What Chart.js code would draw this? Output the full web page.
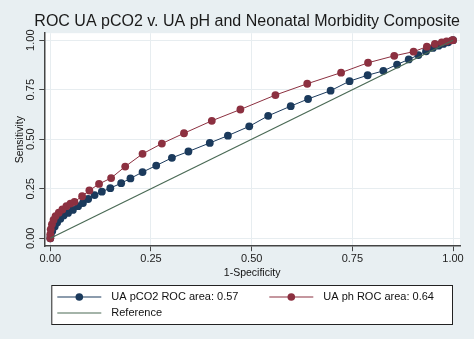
<!DOCTYPE html>
<html>
<head>
<meta charset="utf-8">
<script src="https://cdn.jsdelivr.net/npm/chart.js@4.4.1/dist/chart.umd.min.js"></script>
<style>
    html, body { margin: 0; padding: 0; background: #e8eff2; }
    #wrap { width: 474px; height: 339px; position: relative; }
</style>
</head>
<body>
<div id="wrap"><canvas id="roc-chart"></canvas></div>
<script>
// values (1-specificity, sensitivity)
const pco2X = [0, 0.001, 0.005, 0.011, 0.017, 0.025, 0.033, 0.044, 0.056, 0.069, 0.081, 0.094, 0.110, 0.128, 0.149, 0.176, 0.199, 0.229, 0.263, 0.302, 0.343, 0.396, 0.441, 0.494, 0.541, 0.597, 0.640, 0.696, 0.743, 0.788, 0.827, 0.861, 0.890, 0.914, 0.933, 0.950, 0.964, 0.976, 0.988, 1];
const pco2Y = [0, 0.015, 0.037, 0.059, 0.079, 0.098, 0.115, 0.128, 0.143, 0.162, 0.178, 0.198, 0.218, 0.235, 0.253, 0.278, 0.302, 0.334, 0.367, 0.406, 0.438, 0.481, 0.518, 0.565, 0.618, 0.667, 0.703, 0.745, 0.793, 0.823, 0.845, 0.877, 0.903, 0.925, 0.944, 0.961, 0.972, 0.981, 0.989, 1];
const phX = [0, 0, 0.001, 0.004, 0.008, 0.013, 0.021, 0.030, 0.040, 0.050, 0.060, 0.079, 0.097, 0.121, 0.151, 0.186, 0.229, 0.277, 0.332, 0.401, 0.472, 0.559, 0.638, 0.722, 0.789, 0.854, 0.902, 0.935, 0.955, 0.972, 0.984, 0.997, 1];
const phY = [0, 0.020, 0.045, 0.070, 0.092, 0.112, 0.129, 0.145, 0.162, 0.175, 0.184, 0.212, 0.241, 0.274, 0.304, 0.362, 0.426, 0.478, 0.530, 0.593, 0.650, 0.723, 0.780, 0.836, 0.886, 0.921, 0.942, 0.967, 0.981, 0.989, 0.994, 0.999, 1];
const refX = [0, 1];
const refY = [0, 1];

const xTicks = [0, 0.25, 0.5, 0.75, 1];
const yTicks = [0, 0.25, 0.5, 0.75, 1];
const seriesLabels = ['UA pCO2 ROC area: 0.57', 'UA ph ROC area: 0.64', 'Reference'];

const NAVY = '#1b3a5c';
const MAROON = '#8c3040';
const REF_GREEN = '#4a6a55';
const BG = '#e8eff2';

Chart.defaults.font.family = '"Liberation Sans", Arial, sans-serif';
Chart.defaults.color = '#333';

function toPoints(xs, ys) {
    return xs.map((x, i) => ({x: x, y: ys[i]}));
}

// outer grey page + white plot region
const plotBackground = {
    id: 'plotBackground',
    beforeDraw(chart) {
        const ctx = chart.ctx;
        const a = chart.chartArea;
        ctx.save();
        ctx.fillStyle = BG;
        ctx.fillRect(0, 0, chart.width, chart.height);
        ctx.fillStyle = '#ffffff';
        ctx.fillRect(a.left, a.top, a.right - a.left, a.bottom - a.top);
        ctx.restore();
    }
};

// Stata style boxed legend: two entries on the first row, reference below
const boxedLegend = {
    id: 'boxedLegend',
    afterDraw(chart) {
        const ctx = chart.ctx;
        const a = chart.chartArea;
        const left = a.left + 7;
        const right = a.right - 8;
        const top = chart.height - 54;
        const bottom = chart.height - 15;
        ctx.save();
        ctx.fillStyle = '#ffffff';
        ctx.fillRect(left, top, right - left, bottom - top);
        ctx.strokeStyle = '#222';
        ctx.lineWidth = 1;
        ctx.strokeRect(left + 0.5, top + 0.5, right - left, bottom - top);

        const slots = [
            {x: left + 6, y: top + 12},
            {x: left + 218, y: top + 12},
            {x: left + 6, y: top + 28}
        ];
        const ds = chart.data.datasets;
        ctx.font = '11px "Liberation Sans", Arial, sans-serif';
        ctx.textBaseline = 'middle';
        ctx.textAlign = 'left';
        slots.forEach((s, i) => {
            const d = ds[i];
            ctx.strokeStyle = d.borderColor;
            ctx.lineWidth = 1.2;
            ctx.beginPath();
            ctx.moveTo(s.x, s.y);
            ctx.lineTo(s.x + 44, s.y);
            ctx.stroke();
            if (d.pointRadius > 0) {
                ctx.fillStyle = d.pointBackgroundColor;
                ctx.beginPath();
                ctx.arc(s.x + 22, s.y, 3.8, 0, Math.PI * 2);
                ctx.fill();
            }
            ctx.fillStyle = '#111';
            ctx.fillText(d.label, s.x + 54, s.y);
        });
        ctx.restore();
    }
};

const config = {
    type: 'scatter',
    data: {
        datasets: [
            {
                label: seriesLabels[0],
                data: toPoints(pco2X, pco2Y),
                showLine: true,
                borderColor: NAVY,
                borderWidth: 1,
                pointBackgroundColor: NAVY,
                pointBorderColor: NAVY,
                pointRadius: 3.9,
                pointBorderWidth: 0,
                order: 3
            },
            {
                label: seriesLabels[1],
                data: toPoints(phX, phY),
                showLine: true,
                borderColor: MAROON,
                borderWidth: 1,
                pointBackgroundColor: MAROON,
                pointBorderColor: MAROON,
                pointRadius: 3.9,
                pointBorderWidth: 0,
                order: 2
            },
            {
                label: seriesLabels[2],
                data: toPoints(refX, refY),
                showLine: true,
                borderColor: REF_GREEN,
                borderWidth: 1.2,
                pointRadius: 0,
                order: 1
            }
        ]
    },
    options: {
        responsive: true,
        maintainAspectRatio: false,
        animation: false,
        devicePixelRatio: 1,
        layout: {
            padding: {left: 14, right: 14, top: 0, bottom: 60}
        },
        plugins: {
            legend: {display: false},
            tooltip: {enabled: false},
            title: {
                display: true,
                text: 'ROC UA pCO2 v. UA pH and Neonatal Morbidity Composite',
                align: 'end',
                color: '#1a1a1a',
                font: {size: 16, weight: 'normal'},
                padding: {top: 12, bottom: 2}
            }
        },
        scales: {
            x: {
                type: 'linear',
                min: -0.0149,
                max: 1.0173,
                afterBuildTicks: (scale) => {
                    scale.ticks = xTicks.map(v => ({value: v}));
                },
                ticks: {
                    padding: 1,
                    font: {size: 11},
                    color: '#222',
                    callback: (v) => Number(v).toFixed(2)
                },
                grid: {
                    color: '#e7edf0',
                    tickColor: '#444',
                    tickLength: 5
                },
                border: {color: '#444', width: 1.5},
                title: {
                    display: true,
                    text: '1-Specificity',
                    color: '#111',
                    font: {size: 10.5},
                    padding: {top: 0, bottom: 0}
                }
            },
            y: {
                type: 'linear',
                min: -0.0402,
                max: 1.0352,
                afterBuildTicks: (scale) => {
                    scale.ticks = yTicks.map(v => ({value: v}));
                },
                ticks: {
                    padding: -2,
                    minRotation: 90,
                    maxRotation: 90,
                    crossAlign: 'center',
                    font: {size: 11},
                    color: '#222',
                    callback: (v) => Number(v).toFixed(2)
                },
                grid: {
                    color: '#e7edf0',
                    tickColor: '#444',
                    tickLength: 5
                },
                border: {color: '#444', width: 1.5},
                title: {
                    display: true,
                    text: 'Sensitivity',
                    color: '#111',
                    font: {size: 10.5},
                    padding: {top: 0, bottom: 3.5}
                }
            }
        }
    },
    plugins: [plotBackground, boxedLegend]
};

const rocChart = new Chart(document.getElementById('roc-chart'), config);
</script>
</body>
</html>
